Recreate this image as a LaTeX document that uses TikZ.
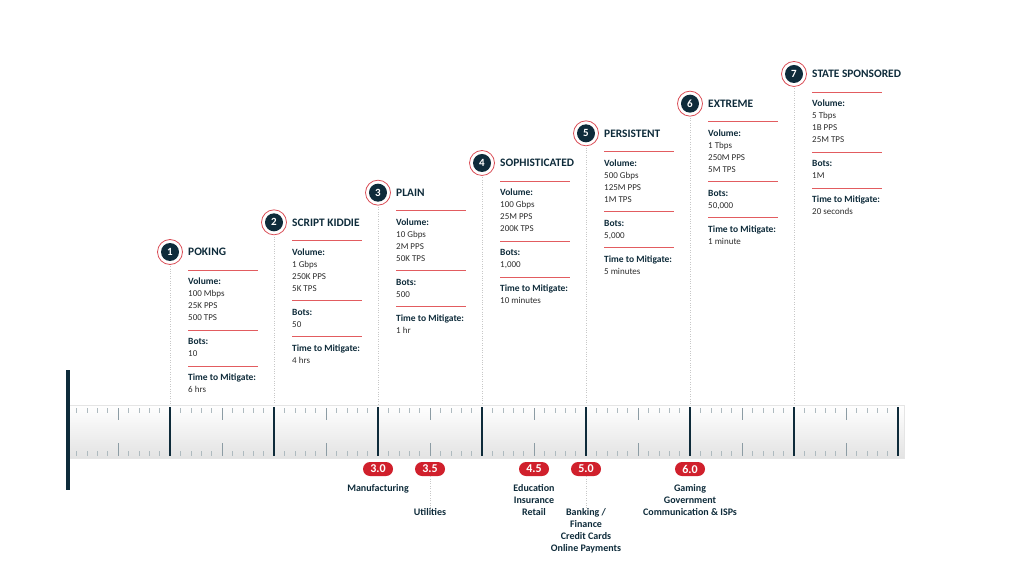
\documentclass[tikz,border=0pt]{standalone}
\usepackage{fontspec}
\setmainfont{Carlito}
\usetikzlibrary{positioning}
\definecolor{navy}{RGB}{14,43,58}
\definecolor{badgered}{RGB}{208,32,44}
\definecolor{rulered}{RGB}{226,92,96}
\definecolor{valgray}{RGB}{45,45,45}
\definecolor{dotgray}{RGB}{200,200,200}
\definecolor{tickgray}{RGB}{140,156,164}
\newcommand\fieldlabel[1]{{\fontsize{9.5}{12}\selectfont\bfseries\color{navy}#1}}

\begin{document}
\begin{tikzpicture}[x=1pt, y=-1pt,
  stepnum/.style={circle, fill=navy, text=white, font=\fontsize{11}{12}\selectfont\bfseries, minimum size=18pt, inner sep=0pt},
  ring/.style={draw=badgered!80, line width=0.8pt},
  title/.style={anchor=base west, text=navy, font=\fontsize{11.4}{13}\selectfont\bfseries, inner sep=0pt},
  field/.style={anchor=base west, text=valgray, align=left, font=\fontsize{9}{12}\selectfont, inner sep=0pt},
  sep/.style={draw=rulered, line width=0.7pt},
  guide/.style={draw=dotgray, line width=0.7pt, dash pattern=on 0.8pt off 1.6pt},
  badge/.style={fill=badgered, text=white, rounded corners=7pt, minimum width=30pt, minimum height=14pt, inner sep=0pt, font=\fontsize{12}{13}\selectfont\bfseries},
  sector/.style={anchor=base, text=navy, align=center, font=\fontsize{10}{12}\selectfont\bfseries, inner sep=0pt}]

  \useasboundingbox (0,0) rectangle (1024,580);

  % Ruler
  \shade[top color=white, bottom color=gray!22, draw=gray!20] (68,405) rectangle (904,458);
  \foreach \k in {1,...,80} {
    \pgfmathsetmacro\tx{66+10.4*\k}
    \pgfmathtruncatemacro\m{mod(\k,10)}
    \ifnum\m=0
      \draw[navy, line width=1.5pt] (\tx,407) -- (\tx,456);
    \else\ifnum\m=5
      \draw[tickgray, line width=0.8pt] (\tx,408) -- (\tx,420) (\tx,443) -- (\tx,456);
    \else
      \draw[tickgray!70, line width=0.6pt] (\tx,408) -- (\tx,413) (\tx,451) -- (\tx,456);
    \fi\fi
  }
  \draw[navy, line width=3.5pt] (68,370) -- (68,490);

  % Stages
  \foreach \i/\name/\vol/\bots/\ttm in {
    1/POKING/{100 Mbps\\25K PPS\\500 TPS}/10/6 hrs,
    2/SCRIPT KIDDIE/{1 Gbps\\250K PPS\\5K TPS}/50/4 hrs,
    3/PLAIN/{10 Gbps\\2M PPS\\50K TPS}/500/1 hr,
    4/SOPHISTICATED/{100 Gbps\\25M PPS\\200K TPS}/{1,000}/10 minutes,
    5/PERSISTENT/{500 Gbps\\125M PPS\\1M TPS}/{5,000}/5 minutes,
    6/EXTREME/{1 Tbps\\250M PPS\\5M TPS}/{50,000}/1 minute,
    7/STATE SPONSORED/{5 Tbps\\1B PPS\\25M TPS}/1M/20 seconds} {
    \pgfmathsetmacro\cx{170+104*(\i-1)}
    \pgfmathsetmacro\cy{252-29.67*(\i-1)}
    \node[stepnum] (n\i) at (\cx,\cy) {\i};
    \draw[ring] (n\i.center) circle[radius=12.5pt];
    \coordinate (tick\i) at (\cx,404);
    \draw[guide] ([yshift=-5pt]n\i.south) -- (tick\i);
    \node[title] (t\i) at (\cx+18,\cy+3.7) {\name};
    \draw[sep] (\cx+18,\cy+18) -- (\cx+88,\cy+18);
    % base of a multi-line node = its last line
    \node[field] (v\i) at (\cx+18,\cy+68.8) {\fieldlabel{Volume:}\\\vol};
    \draw[sep] (\cx+18,\cy+78) -- (\cx+88,\cy+78);
    \node[field] (b\i) at (\cx+18,\cy+104.8) {\fieldlabel{Bots:}\\\bots};
    \draw[sep] (\cx+18,\cy+114) -- (\cx+88,\cy+114);
    \node[field] (m\i) at (\cx+18,\cy+140.8) {\fieldlabel{Time to Mitigate:}\\\ttm};
  }

  % Versions and sectors
  \node[badge] (s30) at (378,469) {3.0};
  \node[badge] (s35) at (430,469) {3.5};
  \node[badge] (s45) at (534,469) {4.5};
  \node[badge] (s50) at (586,469) {5.0};
  \node[badge] (s60) at (690,469) {6.0};

  \node[sector] (manu) at (378,491.5) {Manufacturing};
  \node[sector] (util) at (430,515.5) {Utilities};
  \node[sector] (edu) at (534,515.5) {Education\\Insurance\\Retail};
  \node[sector] (bank) at (586,551.5) {Banking /\\Finance\\Credit Cards\\Online Payments};
  \node[sector] (game) at (690,515.5) {Gaming\\Government\\Communication \& ISPs};
  \draw[guide] (s35) -- (util);
  \draw[guide] (s50) -- (bank);
\end{tikzpicture}
\end{document}
